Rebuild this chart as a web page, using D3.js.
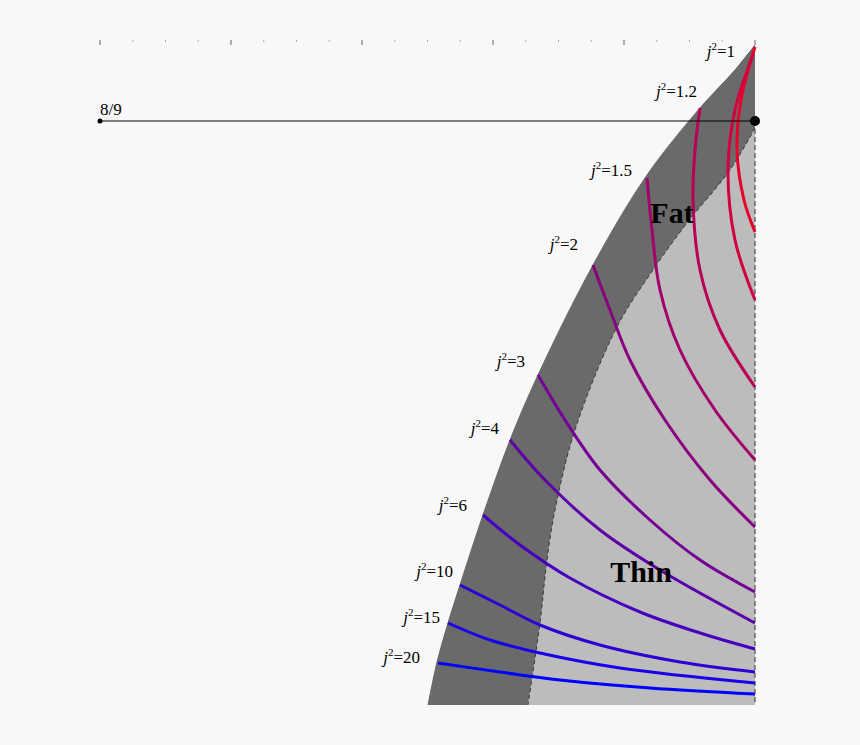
<!DOCTYPE html>
<html>
<head>
<meta charset="utf-8">
<script src="https://cdn.jsdelivr.net/npm/d3@7"></script>
<style>
  body { margin: 0; background: #f8f8f8; }
  svg { display: block; }
</style>
</head>
<body>
<div id="graph"></div>
<script>
// data units: x from 0 (left) to 655 (right edge), y from 0 (bottom) to 657
var outerEdge = [[655,660],[635,635],[600,597],[547,530],[493,440],[438,330],[410,265],[383,190],[360,120],[348,82],[337,43],[328,0]];
var innerEdge = [[655,577],[630,535],[587,482],[553,435],[517,378],[475,275],[455,195],[447,145],[440,82],[428,0]];
var labels = ["1", null, "1.2", "1.5", "2", "3", "4", "6", "10", "15", "20"];
var curves = [
  [[655,658],[641,605],[637,555],[644,505],[655,473]],
  [[653,650],[635,595],[628,535],[635,465],[655,405]],
  [[600,597],[595,555],[593,505],[600,435],[620,375],[655,318]],
  [[547,527],[552,475],[560,415],[580,355],[615,295],[655,245]],
  [[493,440],[510,395],[530,345],[565,285],[610,225],[655,178]],
  [[438,330],[465,285],[500,235],[550,185],[600,145],[655,113]],
  [[410,265],[445,225],[500,175],[560,135],[655,82]],
  [[383,190],[420,160],[470,127],[540,93],[600,72],[655,56]],
  [[360,120],[400,100],[440,80],[500,60],[580,43],[655,33]],
  [[348,82],[390,65],[440,52],[520,37],[655,22]],
  [[338,42],[400,33],[460,25],[550,17],[655,11]]
];
var labelPos = [[635,648],[0,0],[597,608],[532,529],[478,455],[425,338],[399,271],[367,194],[353,128],[340,82],[320,42]];
var refLevel = 584; // 8/9 of the height

var W = 860, H = 745;
var sx = d3.scaleLinear().domain([0, 655]).range([100, 755]);
var sy = d3.scaleLinear().domain([0, 657]).range([705, 48]);

var svg = d3.select("#graph").append("svg").attr("width", W).attr("height", H);
svg.append("rect").attr("width", W).attr("height", H).attr("fill", "#f8f8f8");

var line = d3.line().x(d => sx(d[0])).y(d => sy(d[1])).curve(d3.curveCatmullRom);

// dark band
var dark = outerEdge.concat([[655,0]]);
svg.append("path")
  .attr("d", d3.line().x(d => sx(d[0])).y(d => sy(d[1])).curve(d3.curveLinear)(dark))
  .attr("fill", "#6a6a6a").attr("stroke", "none");
svg.append("path").attr("d", line(outerEdge)).attr("fill", "none").attr("stroke", "#555").attr("stroke-width", 0.8);
svg.append("path")
  .attr("d", line(outerEdge) + "L" + sx(655) + "," + sy(0) + "Z")
  .attr("fill", "#6a6a6a");

// light region
svg.append("path")
  .attr("d", line(innerEdge) + "L" + sx(655) + "," + sy(0) + "Z")
  .attr("fill", "#bcbcbc");
svg.append("path").attr("d", line(innerEdge))
  .attr("fill", "none").attr("stroke", "#222").attr("stroke-width", 0.8).attr("stroke-dasharray", "4,3");

// right dashed edge
svg.append("line")
  .attr("x1", sx(655)).attr("x2", sx(655)).attr("y1", sy(refLevel)).attr("y2", sy(0))
  .attr("stroke", "#333").attr("stroke-width", 1).attr("stroke-dasharray", "5,3");

// top ticks
d3.range(0, 656, 655 / 20).forEach(function (t, i) {
  var major = i % 4 === 0;
  svg.append("line").attr("x1", sx(t)).attr("x2", sx(t))
    .attr("y1", 40).attr("y2", major ? 45 : 42)
    .attr("stroke", major ? "#666" : "#aaa").attr("stroke-width", 1);
});

// curves
var color = d3.scaleLinear().domain([0, curves.length - 1]).range(["#e8002a", "#0000ff"]).interpolate(d3.interpolateRgb);
curves.forEach(function (c, i) {
  svg.append("path").attr("d", line(c)).attr("fill", "none")
    .attr("stroke", color(i)).attr("stroke-width", 3);
});

// 8/9 line
svg.append("line").attr("x1", sx(0)).attr("x2", sx(655)).attr("y1", sy(refLevel)).attr("y2", sy(refLevel))
  .attr("stroke", "#000").attr("stroke-width", 1);
svg.append("circle").attr("cx", sx(0)).attr("cy", sy(refLevel)).attr("r", 2.5);
svg.append("circle").attr("cx", sx(655)).attr("cy", sy(refLevel)).attr("r", 5);
svg.append("text").attr("x", sx(0)).attr("y", sy(refLevel) - 6)
  .attr("font-family", "Liberation Serif, serif").attr("font-size", 17).text("8/9");

// labels
labels.forEach(function (l, i) {
  if (!l) return;
  var t = svg.append("text").attr("x", sx(labelPos[i][0])).attr("y", sy(labelPos[i][1]))
    .attr("text-anchor", "end").attr("font-family", "Liberation Serif, serif").attr("font-size", 17);
  t.append("tspan").attr("font-style", "italic").text("j");
  t.append("tspan").attr("font-size", 11).attr("dy", -7).text("2");
  t.append("tspan").attr("dy", 7).text("=" + l);
});

svg.append("text").attr("x", 672).attr("y", 223).attr("text-anchor", "middle")
  .attr("font-family", "Liberation Serif, serif").attr("font-weight", "bold").attr("font-size", 30).text("Fat");
svg.append("text").attr("x", 641).attr("y", 582).attr("text-anchor", "middle")
  .attr("font-family", "Liberation Serif, serif").attr("font-weight", "bold").attr("font-size", 30).text("Thin");
</script>
</body>
</html>
